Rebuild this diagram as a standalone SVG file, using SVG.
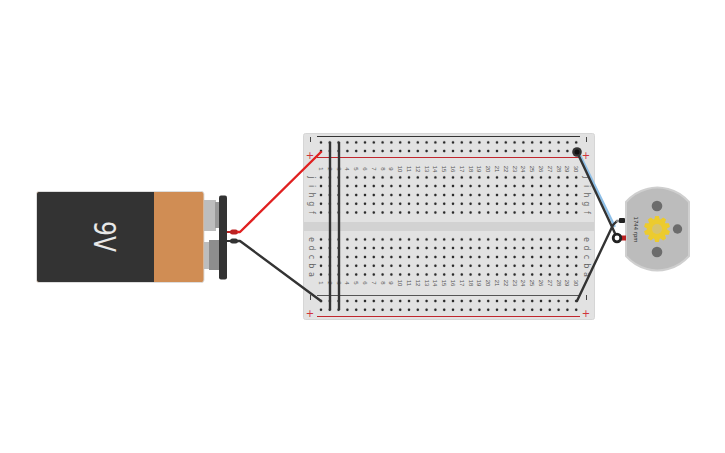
<svg xmlns="http://www.w3.org/2000/svg" width="725" height="453" viewBox="0 0 725 453">
<style>
text{font-family:"DejaVu Sans","Liberation Sans",sans-serif}
.num{font-family:"Liberation Sans",sans-serif;font-size:6px;fill:#555;text-anchor:middle;dominant-baseline:central}
.let{font-size:8px;fill:#666;text-anchor:middle;dominant-baseline:central}
.plus{font-size:10px;fill:#d0343a;text-anchor:middle;dominant-baseline:central}
.minus{stroke:#444;stroke-width:1}
.hole{stroke:#2a2a2a;stroke-width:2.400;stroke-linecap:round;stroke-dasharray:0 8.8;fill:none}
.halo{stroke:#cbcbcb;stroke-width:3.600;stroke-linecap:round;stroke-dasharray:0 8.8;fill:none}
.wire{fill:none;stroke-linecap:round;stroke-linejoin:round;stroke-width:2.400}
</style>
<defs>
<g id="row"><line class="halo" x1="321" x2="577" y1="0" y2="0"/><line class="hole" x1="321" x2="577" y1="0" y2="0"/></g>
<path id="tooth" d="M-3 -9L-1.800 -13H1.800L3 -9Z" fill="#eccb2e"/>
</defs>
<rect width="725" height="453" fill="#fff"/>
<g id="breadboard">
<rect x="303.500" y="133.500" width="291" height="186" rx="2" fill="#e2e2e2" stroke="#d6d6d6"/>
<rect x="304" y="222" width="290" height="9" fill="#d2d2d2"/>
<line x1="317" x2="580" y1="136.500" y2="136.500" stroke="#333" stroke-width="1"/>
<line x1="317" x2="580" y1="157.500" y2="157.500" stroke="#c0272d" stroke-width="1"/>
<line x1="317" x2="580" y1="295.500" y2="295.500" stroke="#555" stroke-width="1"/>
<line x1="317" x2="580" y1="316.500" y2="316.500" stroke="#c0272d" stroke-width="1"/>
<use href="#row" y="142.400"/><use href="#row" y="151"/>
<use href="#row" y="177.400"/><use href="#row" y="186"/><use href="#row" y="195"/><use href="#row" y="203.700"/><use href="#row" y="212.500"/>
<use href="#row" y="239.400"/><use href="#row" y="248"/><use href="#row" y="257"/><use href="#row" y="265.700"/><use href="#row" y="274.500"/>
<use href="#row" y="301"/><use href="#row" y="309.700"/>
<g id="labels-marks">
<line class="minus" x1="310.500" x2="310.500" y1="137" y2="142"/><line class="minus" x1="586.500" x2="586.500" y1="137" y2="142"/>
<line class="minus" x1="310.500" x2="310.500" y1="295" y2="300"/><line class="minus" x1="586.500" x2="586.500" y1="295" y2="300"/>
<text class="plus" x="310" y="155">+</text><text class="plus" x="586" y="155">+</text>
<text class="plus" x="310" y="313">+</text><text class="plus" x="586" y="313">+</text>
</g>
<g id="letters">
<text class="let" transform="translate(311 177.400) rotate(90)">j</text><text class="let" transform="translate(311 186) rotate(90)">i</text><text class="let" transform="translate(311 195) rotate(90)">h</text><text class="let" transform="translate(311 203.700) rotate(90)">g</text><text class="let" transform="translate(311 212.500) rotate(90)">f</text>
<text class="let" transform="translate(311 239.400) rotate(90)">e</text><text class="let" transform="translate(311 248) rotate(90)">d</text><text class="let" transform="translate(311 257) rotate(90)">c</text><text class="let" transform="translate(311 265.700) rotate(90)">b</text><text class="let" transform="translate(311 274.500) rotate(90)">a</text>
<text class="let" transform="translate(586 177.400) rotate(90)">j</text><text class="let" transform="translate(586 186) rotate(90)">i</text><text class="let" transform="translate(586 195) rotate(90)">h</text><text class="let" transform="translate(586 203.700) rotate(90)">g</text><text class="let" transform="translate(586 212.500) rotate(90)">f</text>
<text class="let" transform="translate(586 239.400) rotate(90)">e</text><text class="let" transform="translate(586 248) rotate(90)">d</text><text class="let" transform="translate(586 257) rotate(90)">c</text><text class="let" transform="translate(586 265.700) rotate(90)">b</text><text class="let" transform="translate(586 274.500) rotate(90)">a</text>
</g>
<g id="numbers-top">
<text class="num" transform="translate(321 169) rotate(90)">1</text><text class="num" transform="translate(329.800 169) rotate(90)">2</text><text class="num" transform="translate(338.600 169) rotate(90)">3</text><text class="num" transform="translate(347.400 169) rotate(90)">4</text><text class="num" transform="translate(356.200 169) rotate(90)">5</text><text class="num" transform="translate(365 169) rotate(90)">6</text><text class="num" transform="translate(373.800 169) rotate(90)">7</text><text class="num" transform="translate(382.600 169) rotate(90)">8</text><text class="num" transform="translate(391.400 169) rotate(90)">9</text><text class="num" transform="translate(400.200 169) rotate(90)">10</text>
<text class="num" transform="translate(409 169) rotate(90)">11</text><text class="num" transform="translate(417.800 169) rotate(90)">12</text><text class="num" transform="translate(426.600 169) rotate(90)">13</text><text class="num" transform="translate(435.400 169) rotate(90)">14</text><text class="num" transform="translate(444.200 169) rotate(90)">15</text><text class="num" transform="translate(453 169) rotate(90)">16</text><text class="num" transform="translate(461.800 169) rotate(90)">17</text><text class="num" transform="translate(470.600 169) rotate(90)">18</text><text class="num" transform="translate(479.400 169) rotate(90)">19</text><text class="num" transform="translate(488.200 169) rotate(90)">20</text>
<text class="num" transform="translate(497 169) rotate(90)">21</text><text class="num" transform="translate(505.800 169) rotate(90)">22</text><text class="num" transform="translate(514.600 169) rotate(90)">23</text><text class="num" transform="translate(523.400 169) rotate(90)">24</text><text class="num" transform="translate(532.200 169) rotate(90)">25</text><text class="num" transform="translate(541 169) rotate(90)">26</text><text class="num" transform="translate(549.800 169) rotate(90)">27</text><text class="num" transform="translate(558.600 169) rotate(90)">28</text><text class="num" transform="translate(567.400 169) rotate(90)">29</text><text class="num" transform="translate(576.200 169) rotate(90)">30</text>
</g>
<g id="numbers-bottom">
<text class="num" transform="translate(321 283) rotate(90)">1</text><text class="num" transform="translate(329.800 283) rotate(90)">2</text><text class="num" transform="translate(338.600 283) rotate(90)">3</text><text class="num" transform="translate(347.400 283) rotate(90)">4</text><text class="num" transform="translate(356.200 283) rotate(90)">5</text><text class="num" transform="translate(365 283) rotate(90)">6</text><text class="num" transform="translate(373.800 283) rotate(90)">7</text><text class="num" transform="translate(382.600 283) rotate(90)">8</text><text class="num" transform="translate(391.400 283) rotate(90)">9</text><text class="num" transform="translate(400.200 283) rotate(90)">10</text>
<text class="num" transform="translate(409 283) rotate(90)">11</text><text class="num" transform="translate(417.800 283) rotate(90)">12</text><text class="num" transform="translate(426.600 283) rotate(90)">13</text><text class="num" transform="translate(435.400 283) rotate(90)">14</text><text class="num" transform="translate(444.200 283) rotate(90)">15</text><text class="num" transform="translate(453 283) rotate(90)">16</text><text class="num" transform="translate(461.800 283) rotate(90)">17</text><text class="num" transform="translate(470.600 283) rotate(90)">18</text><text class="num" transform="translate(479.400 283) rotate(90)">19</text><text class="num" transform="translate(488.200 283) rotate(90)">20</text>
<text class="num" transform="translate(497 283) rotate(90)">21</text><text class="num" transform="translate(505.800 283) rotate(90)">22</text><text class="num" transform="translate(514.600 283) rotate(90)">23</text><text class="num" transform="translate(523.400 283) rotate(90)">24</text><text class="num" transform="translate(532.200 283) rotate(90)">25</text><text class="num" transform="translate(541 283) rotate(90)">26</text><text class="num" transform="translate(549.800 283) rotate(90)">27</text><text class="num" transform="translate(558.600 283) rotate(90)">28</text><text class="num" transform="translate(567.400 283) rotate(90)">29</text><text class="num" transform="translate(576.200 283) rotate(90)">30</text>
</g>
</g>
<g id="battery">
<rect x="36.500" y="191.500" width="167.500" height="91" rx="2.500" fill="#d08d54" stroke="#ddd" stroke-width="1"/>
<path d="M154 192H39a2 2 0 0 0-2 2V280a2 2 0 0 0 2 2H154Z" fill="#333"/>
<text transform="translate(104 236.500) rotate(90)" font-size="30" fill="#e8e8e8" text-anchor="middle" dominant-baseline="central" textLength="31" lengthAdjust="spacingAndGlyphs" font-family="Liberation Sans">9V</text>
</g>
<g id="connector">
<rect x="204" y="200" width="12" height="31" fill="#bdbdbd"/><rect x="215" y="202" width="5" height="26" fill="#999"/>
<rect x="204" y="242" width="6" height="27" fill="#bdbdbd"/><rect x="209" y="240" width="11" height="30" fill="#8e8e8e"/>
<rect x="219" y="195.500" width="8" height="84" rx="2" fill="#333"/>
<rect x="227" y="231" width="5" height="2" fill="#b22"/><rect x="230" y="229.500" width="8" height="5" rx="2.500" fill="#b22"/>
<rect x="227" y="240" width="5" height="2" fill="#333"/><rect x="230" y="238.500" width="8" height="5" rx="2.500" fill="#333"/>
</g>
<g id="connectors">
<path class="wire" d="M238 232L240 232L321 152" stroke="#e02020"/>
<path class="wire" d="M238 241L240 241L321 301" stroke="#333"/>
<line x1="330" y1="142" x2="330" y2="310" stroke="#333" stroke-width="2.400"/>
<line x1="339" y1="142" x2="339" y2="310" stroke="#333" stroke-width="2.400"/>
<path class="wire" d="M578.500 152L614.500 226" stroke="#8fc0e8" stroke-width="3"/>
<path class="wire" d="M577 152L613 229L617 238" stroke="#333"/>
<path class="wire" d="M577 301L613 225L617 221" stroke="#333"/>
<path class="wire" d="M617 221H619" stroke="#888" stroke-width="1.500"/>
</g>
<g id="motor">
<path d="M626 202Q635 192 647 189Q657 186 668 189Q680 192 689 202V256Q680 266 668 269Q657 272 647 269Q635 266 626 256Z" fill="#bcbcbc" stroke="#cfcfcf" stroke-width="2"/>
<circle cx="657" cy="206" r="5.300" fill="#6c6c6c"/><circle cx="657" cy="252" r="5.300" fill="#6c6c6c"/><circle cx="677.500" cy="229" r="4.700" fill="#6c6c6c"/>
<g transform="translate(657 229)">
<circle r="10" fill="#eccb2e"/>
<use href="#tooth"/><use href="#tooth" transform="rotate(36)"/><use href="#tooth" transform="rotate(72)"/><use href="#tooth" transform="rotate(108)"/><use href="#tooth" transform="rotate(144)"/><use href="#tooth" transform="rotate(180)"/><use href="#tooth" transform="rotate(216)"/><use href="#tooth" transform="rotate(252)"/><use href="#tooth" transform="rotate(288)"/><use href="#tooth" transform="rotate(324)"/>
<circle r="5" fill="#d8c46c"/>
</g>
<text transform="translate(636 229.500) rotate(90)" font-size="5.500" fill="#333" text-anchor="middle" dominant-baseline="central" textLength="26" lengthAdjust="spacingAndGlyphs">1744 rpm</text>
<rect x="619" y="218" width="6" height="5" rx="1" fill="#222"/>
<rect x="621" y="235.500" width="5" height="5" fill="#b22"/>
<circle cx="617" cy="238" r="3.800" fill="#fff" stroke="#222" stroke-width="2.800"/>
<circle cx="577" cy="152" r="4.800" fill="#333"/><circle cx="577" cy="152" r="2.500" fill="#111"/>
</g>
</svg>
